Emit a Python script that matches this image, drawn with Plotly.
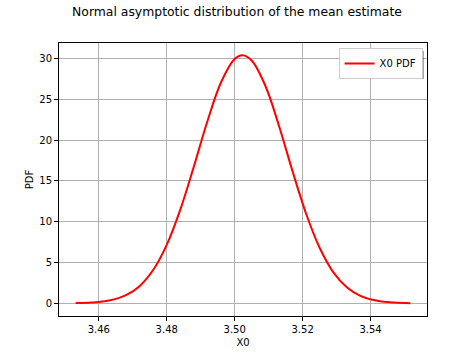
import plotly.graph_objects as go

# Values
x_vals = [3.4532, 3.458, 3.463, 3.468, 3.472, 3.476, 3.480, 3.484, 3.488, 3.492,
          3.496, 3.500, 3.5023, 3.505, 3.509, 3.513, 3.517, 3.521, 3.525, 3.529,
          3.533, 3.537, 3.542, 3.547, 3.5517]
pdf_vals = [0.028, 0.10, 0.34, 1.00, 2.11, 4.08, 7.17, 11.49, 16.78, 22.34,
            27.09, 29.94, 30.40, 29.76, 26.69, 21.80, 16.23, 11.01, 6.81, 3.83,
            1.97, 0.92, 0.31, 0.092, 0.025]
x_ticks = [3.46, 3.48, 3.50, 3.52, 3.54]
y_ticks = [0, 5, 10, 15, 20, 25, 30]
series_name = "X0 PDF"
title_text = "Normal asymptotic distribution of the mean estimate"

FONT = "DejaVu Sans"

fig = go.Figure()
fig.add_trace(go.Scatter(
    x=x_vals, y=pdf_vals, mode="lines", name=series_name,
    line=dict(color="red", width=2, shape="spline", smoothing=1.0),
))

axis_common = dict(
    showline=True, linecolor="black", linewidth=1, mirror=True,
    showgrid=True, gridcolor="#b0b0b0", gridwidth=0.8,
    ticks="outside", ticklen=4, tickcolor="black", tickwidth=1,
    tickfont=dict(family=FONT, size=10, color="black"),
    zeroline=False, automargin=False,
)

W, H = 474, 355
ML, MR, MT, MB = 59, 47, 43, 39
pw, ph = W - ML - MR, H - MT - MB


def px_to_paper(xp, yp):
    return (xp - ML) / pw, (H - MB - yp) / ph


# legend shadow (decoration)
sx0, sy0 = px_to_paper(343, 79)
sx1, sy1 = px_to_paper(424, 51)

fig.update_layout(
    width=W, height=H,
    margin=dict(l=ML, r=MR, t=MT, b=MB),
    paper_bgcolor="white", plot_bgcolor="white",
    title=dict(text=title_text, x=0.5, xanchor="center", y=1 - 12/355, yanchor="middle",
               font=dict(family=FONT, size=12.4, color="black")),
    xaxis=dict(range=[3.4483, 3.5566], tickvals=x_ticks, tickformat=".2f",
               title=dict(text="X0", font=dict(family=FONT, size=10, color="black"), standoff=4),
               **axis_common),
    yaxis=dict(range=[-1.55, 31.9], tickvals=y_ticks,
               title=dict(text="PDF", font=dict(family=FONT, size=10, color="black"), standoff=3),
               **axis_common),
    legend=dict(x=0.988, y=0.982, xanchor="right", yanchor="top",
                bgcolor="white", bordercolor="#cccccc", borderwidth=1,
                font=dict(family=FONT, size=10, color="black")),
    showlegend=True,
    shapes=[dict(type="rect", xref="paper", yref="paper",
                 x0=sx0, x1=sx1, y0=sy0, y1=sy1,
                 fillcolor="rgba(0,0,0,0.35)", line=dict(width=0), layer="above")],
)

fig.write_html("out.html", config={"displayModeBar": False},
               post_script="document.body.style.margin='0';")
